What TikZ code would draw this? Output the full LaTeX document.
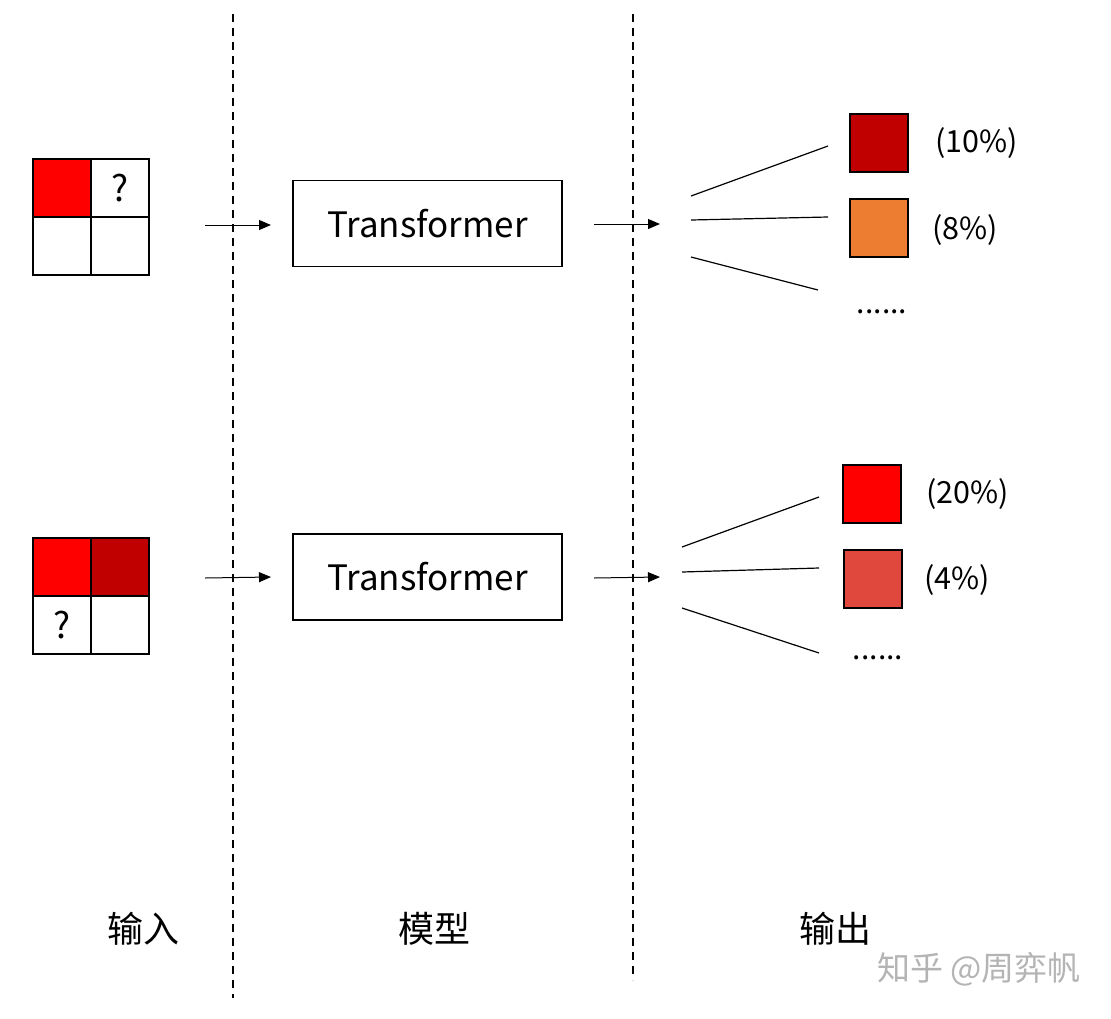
\documentclass[tikz,border=0pt]{standalone}
\usepackage{fontspec}
\setmainfont{Noto Sans CJK SC}
\usetikzlibrary{arrows.meta}
\definecolor{dred}{HTML}{C00000}
\definecolor{orng}{HTML}{ED7D31}
\definecolor{lred}{HTML}{E0483E}
\definecolor{wm}{HTML}{B4B4B4}
\begin{document}
\begin{tikzpicture}[x=1pt,y=-1pt,
  cell/.style={draw,line width=2pt,minimum size=58pt,inner sep=0pt,outer sep=0pt,anchor=north west,font=\fontsize{36}{36}\selectfont},
  sep/.style={line width=1.5pt,dash pattern=on 8pt off 6pt},
  tbox/.style={draw,line width=1.5pt,minimum width=269pt,minimum height=86pt,inner sep=0pt,font=\fontsize{35}{35}\selectfont},
  arr/.style={line width=1pt,-{Triangle[length=12pt,width=10pt]}},
  fan/.style={line width=1.2pt},
  osq/.style={draw,line width=1.5pt,minimum size=58pt,inner sep=0pt,anchor=north west},
  pct/.style={font=\fontsize{30.5}{30.5}\selectfont,inner sep=0pt},
  dots/.style={font=\fontsize{30}{30}\selectfont,inner sep=0pt},
  lab/.style={font=\fontsize{36}{36}\selectfont,inner sep=0pt}]
\useasboundingbox (0,0) rectangle (1111,1018);
\fill[white] (0,0) rectangle (1111,1018);
% separators
\coordinate (s1t) at (233,14); \coordinate (s1b) at (233,998);
\coordinate (s2t) at (633,14); \coordinate (s2b) at (633,980);
\draw[sep] (s1t) -- (s1b);
\draw[sep] (s2t) -- (s2b);
% grid 1
\node[cell,fill=red] (a11) at (33,159) {};
\node[cell] (a12) at (91,159) {?};
\node[cell] (a21) at (33,217) {};
\node[cell] (a22) at (91,217) {};
% grid 2
\node[cell,fill=red] (b11) at (33,538) {};
\node[cell,fill=dred] (b12) at (91,538) {};
\node[cell] (b21) at (33,596) {?};
\node[cell] (b22) at (91,596) {};
% transformers
\node[tbox] (t1) at (427.5,223.5) {Transformer};
\node[tbox] (t2) at (427.5,577) {Transformer};
% arrows
\coordinate (i1) at (205,225); \coordinate (i1e) at (271,225);
\coordinate (i2) at (205,578); \coordinate (i2e) at (271,577);
\coordinate (o1) at (594,224); \coordinate (o1e) at (660,224);
\coordinate (o2) at (594,578); \coordinate (o2e) at (660,577);
\draw[arr] (i1) -- (i1e);
\draw[arr] (i2) -- (i2e);
\draw[arr] (o1) -- (o1e);
\draw[arr] (o2) -- (o2e);
% fan top
\coordinate (f1a) at (691,196); \coordinate (f1b) at (828,146);
\coordinate (f2a) at (691,220); \coordinate (f2b) at (828,217);
\coordinate (f3a) at (691,257); \coordinate (f3b) at (818,290);
\draw[fan] (f1a) -- (f1b);
\draw[fan] (f2a) -- (f2b);
\draw[fan] (f3a) -- (f3b);
% fan bottom
\coordinate (g1a) at (682,547); \coordinate (g1b) at (819,497);
\coordinate (g2a) at (682,572); \coordinate (g2b) at (819,568);
\coordinate (g3a) at (682,608); \coordinate (g3b) at (819,653);
\draw[fan] (g1a) -- (g1b);
\draw[fan] (g2a) -- (g2b);
\draw[fan] (g3a) -- (g3b);
% output squares
\node[osq,fill=dred] (q1) at (849,113) {};
\node[osq,fill=orng] (q2) at (849,198) {};
\node[osq,fill=red] (q3) at (842,464) {};
\node[osq,fill=lred] (q4) at (843,549) {};
\node[pct,anchor=west] (p1) at (935,143) {(10\%)};
\node[pct,anchor=west] (p2) at (932,230) {(8\%)};
\node[pct,anchor=west] (p3) at (926,494) {(20\%)};
\node[pct,anchor=west] (p4) at (924,580) {(4\%)};
\node[dots] (d1) at (882,312) {......};
\node[dots] (d2) at (878,658) {......};
% column labels
\node[lab] (l1) at (143,929) {输入};
\node[lab] (l2) at (434,929) {模型};
\node[lab] (l3) at (835,929) {输出};
% watermark
\node[font=\fontsize{33}{33}\selectfont,text=wm,inner sep=0pt] (wmk) at (979,969) {知乎 @周弈帆};
\end{tikzpicture}
\end{document}
